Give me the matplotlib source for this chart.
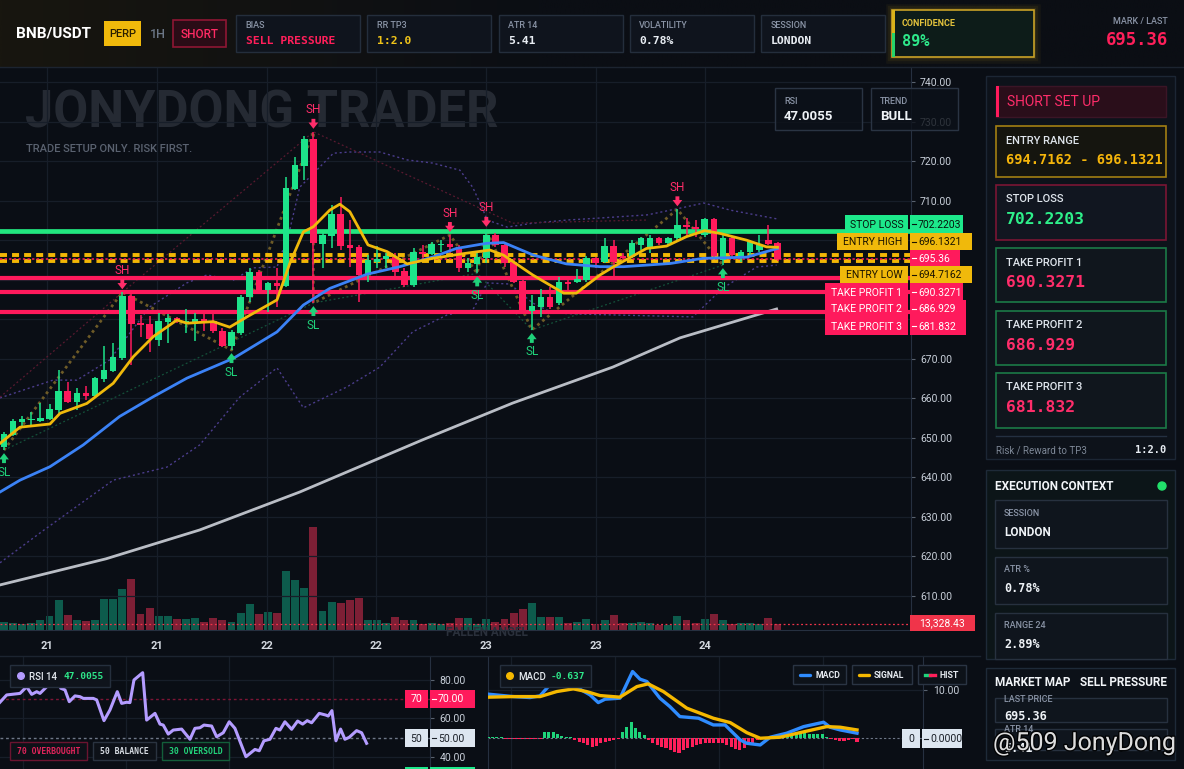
import matplotlib
matplotlib.use("Agg")
import matplotlib.pyplot as plt
from matplotlib.patches import Rectangle, Circle
from matplotlib.colors import to_rgba, to_rgb
import matplotlib.patheffects as pe
import numpy as np

plt.rcParams['font.family'] = ['Roboto', 'DejaVu Sans']
MONO = ['DejaVu Sans Mono', 'DejaVu Sans']

# ---------------------------------------------------------------- data
SYMBOL = "BNB/USDT"
TIMEFRAME = "1H"
SIDE = "SHORT"
BIAS = "SELL PRESSURE"
RR_TP3 = "1:2.0"
ATR_14 = 5.41
VOLATILITY_PCT = 0.78
SESSION = "LONDON"
CONFIDENCE_PCT = 89
RANGE_24_PCT = 2.89
RSI_LAST = 47.0055
MACD_LAST = -0.637
TREND = "BULL"
LAST_VOLUME = 13328.43

STOP_LOSS = 702.2203
ENTRY_HIGH = 696.1321
LAST_PRICE = 695.36
ENTRY_LOW = 694.7162
TP1 = 690.3271
TP2 = 686.929
TP3 = 681.832

OPEN = [647.8, 650.7, 654.1, 654.4, 654.3, 654.7, 657.0, 661.9, 659.1, 661.3,
        660.6, 664.8, 667.0, 670.1, 685.9, 679.0, 678.8, 674.8, 679.4, 680.4,
        679.1, 679.3, 680.1, 679.6, 677.1, 673.2, 676.4, 685.5, 692.0, 687.4,
        689.1, 688.5, 712.9, 718.8, 725.6, 699.0, 701.1, 706.5, 698.7, 698.3,
        691.2, 694.6, 695.3, 695.8, 692.2, 688.7, 696.9, 696.5, 698.7, 699.0,
        698.3, 693.0, 694.0, 695.6, 701.3, 698.8, 694.6, 689.7, 682.1, 683.2,
        685.7, 684.0, 689.3, 689.3, 689.9, 695.4, 694.6, 698.5, 696.0, 695.7,
        698.8, 697.7, 700.5, 699.2, 700.5, 703.8, 703.4, 701.3, 705.3, 695.0,
        700.5, 696.0, 696.9, 697.5, 700.0, 699.2]
HIGH = [651.6, 654.7, 655.6, 656.5, 658.7, 658.6, 667.2, 664.1, 662.5, 663.0,
        665.5, 673.2, 673.9, 686.8, 686.6, 681.1, 680.8, 681.7, 681.2, 680.6,
        682.5, 681.5, 681.5, 682.2, 677.7, 677.3, 686.1, 692.9, 692.5, 689.5,
        693.0, 716.0, 721.1, 726.4, 727.4, 701.7, 708.9, 710.8, 705.1, 698.8,
        696.2, 698.6, 696.7, 696.7, 692.9, 697.9, 698.8, 699.6, 700.0, 701.3,
        698.8, 695.4, 697.1, 702.6, 701.7, 699.2, 695.0, 690.1, 686.1, 687.6,
        688.2, 690.8, 690.8, 692.6, 696.0, 695.8, 700.5, 700.0, 696.7, 700.0,
        700.9, 701.3, 700.9, 700.9, 707.8, 705.5, 705.1, 705.5, 705.5, 701.3,
        700.9, 697.5, 700.0, 701.3, 703.8, 699.6]
LOW = [646.9, 650.5, 653.0, 653.0, 654.1, 654.5, 656.4, 658.7, 657.0, 659.6,
       660.4, 664.2, 666.7, 669.7, 668.4, 675.6, 671.6, 673.3, 674.1, 679.0,
       676.4, 674.5, 677.0, 676.4, 673.1, 672.2, 676.0, 684.4, 687.0, 681.9,
       683.2, 688.2, 712.7, 715.2, 684.1, 692.9, 697.9, 697.5, 693.3, 684.4,
       689.5, 692.9, 692.9, 690.8, 688.2, 688.2, 695.0, 696.2, 697.1, 696.7,
       692.0, 692.0, 691.6, 694.1, 698.3, 693.3, 689.1, 681.9, 677.3, 680.6,
       682.5, 683.6, 687.4, 689.1, 689.5, 692.9, 694.1, 690.8, 695.0, 695.4,
       697.5, 696.7, 698.8, 698.8, 699.6, 700.9, 700.9, 700.9, 695.7, 693.7,
       695.8, 694.6, 696.2, 697.1, 698.8, 694.8]
CLOSE = [651.0, 654.3, 654.7, 654.6, 655.0, 657.3, 661.9, 659.1, 661.3, 660.7,
         665.1, 667.2, 670.4, 685.9, 678.7, 678.5, 674.9, 679.6, 680.4, 679.6,
         679.6, 680.1, 679.3, 676.9, 673.2, 676.7, 685.7, 692.0, 687.4, 689.2,
         688.5, 713.1, 719.0, 725.6, 699.2, 701.3, 706.5, 698.6, 698.1, 691.2,
         695.0, 695.2, 696.0, 692.0, 688.7, 696.9, 696.4, 699.0, 698.9, 698.3,
         693.0, 694.3, 695.8, 701.3, 698.8, 694.1, 689.5, 682.3, 683.3, 685.7,
         683.2, 689.3, 688.8, 690.1, 695.4, 694.3, 698.5, 694.6, 695.4, 699.2,
         700.5, 700.5, 699.2, 700.5, 703.8, 703.3, 702.7, 705.3, 696.0, 700.5,
         696.2, 697.1, 699.6, 698.8, 699.0, 695.36]
VOLUME_K = [18.5, 14.8, 12.6, 16.3, 22.2, 31.1, 66.6, 33.3, 22.2, 20.7,
            22.2, 68.8, 68.8, 91.0, 113.2, 35.5, 48.8, 31.1, 31.1, 24.4,
            24.4, 26.6, 18.5, 26.6, 22.2, 18.5, 37.7, 57.7, 35.5, 40.0,
            37.7, 131.0, 111.0, 93.2, 228.7, 42.2, 62.2, 59.9, 66.6, 71.0,
            22.2, 22.2, 15.5, 28.9, 22.2, 22.2, 13.3, 15.5, 13.3, 15.5,
            26.6, 26.6, 13.3, 24.4, 17.8, 24.4, 37.7, 46.6, 59.9, 28.9,
            28.9, 28.9, 15.5, 17.8, 24.4, 13.3, 22.2, 33.3, 15.5, 15.5,
            17.8, 15.5, 11.1, 11.1, 31.1, 22.2, 15.5, 24.4, 35.5, 22.2,
            13.3, 15.5, 15.5, 13.3, 26.6, 13.33]

DATE_TICKS = [4.75, 16.8, 28.85, 40.9, 52.95, 65.0, 77.05]
DATE_LABELS = ["21", "21", "22", "22", "23", "23", "24"]
PRICE_TICKS = list(range(610, 741, 10))

EMA_FAST_X = [-0.44, 1.76, 5.05, 6.15, 9.1, 12.0, 14.2, 16.4, 19.0, 20.1, 23.0, 24.8, 26.7, 30.0,
              31.4, 32.9, 34.0, 35.8, 36.9, 38.0, 40.0, 42.1, 44.3, 47.1, 50.8, 53.4, 54.9, 58.1,
              61.5, 62.9, 65.5, 67.0, 70.6, 72.8, 75.0, 77.0, 78.7, 81.6, 83.8, 85.0]
EMA_FAST_Y = [648.6, 652.7, 653.5, 656.2, 658.7, 663.8, 670.5, 675.6, 679.8, 679.0, 679.4, 678.0,
              680.6, 684.9, 694.1, 702.1, 703.4, 707.6, 709.1, 707.2, 698.8, 697.1, 694.0, 695.4,
              696.7, 697.5, 696.2, 691.2, 686.6, 686.6, 691.2, 693.3, 697.9, 698.5, 700.9, 702.4,
              701.7, 700.0, 698.3, 698.2]
EMA_SLOW_X = [-0.44, 1.76, 5.05, 8.7, 12.7, 16.4, 20.1, 25.2, 30.0, 32.9, 35.8, 39.9, 43.5, 47.2,
              49.7, 53.0, 54.9, 58.2, 61.8, 65.5, 68.1, 73.2, 76.8, 81.6, 85.0]
EMA_SLOW_Y = [636.3, 639.3, 642.7, 648.2, 655.4, 660.4, 665.1, 670.1, 676.8, 683.6, 687.8, 691.4,
              693.3, 695.8, 697.9, 699.2, 699.4, 696.2, 694.0, 693.3, 693.3, 694.1, 695.4, 695.7,
              697.9]
MA_LONG_X = [-0.44, 11.2, 21.5, 32.5, 46.0, 55.9, 66.9, 74.3, 84.9]
MA_LONG_Y = [612.8, 619.4, 626.7, 636.3, 649.5, 658.8, 667.9, 675.3, 682.6]
BB_UP_X = [-0.44, 5.38, 8.0, 11.6, 16.0, 20.1, 22.3, 25.2, 27.4, 30.0, 31.4, 32.5, 36.2, 38.0,
           41.3, 44.3, 47.1, 50.1, 51.5, 52.5, 53.1, 55.3, 58.1, 61.9, 65.5, 70.7, 74.3, 76.9,
           79.8, 84.9]
BB_UP_Y = [660.1, 664.6, 664.6, 669.7, 683.1, 689.2, 691.2, 689.9, 693.0, 693.2, 702.6, 713.4,
           722.0, 722.3, 722.3, 720.3, 719.5, 717.7, 713.4, 708.4, 705.1, 703.3, 704.3, 705.1,
           705.6, 706.4, 708.1, 709.4, 707.6, 705.4]
BB_LO_X = [-0.44, 4.4, 12.0, 17.9, 21.5, 25.9, 30.0, 32.9, 37.7, 41.3, 44.9, 48.7, 51.5, 53.1,
           55.6, 58.1, 60.3, 63.3, 75.7, 79.0, 82.7, 84.9]
BB_LO_Y = [618.4, 626.7, 639.3, 642.6, 648.2, 660.3, 667.7, 657.6, 662.9, 667.9, 676.8, 681.1,
           682.3, 689.2, 688.9, 684.1, 681.6, 681.3, 680.6, 687.9, 693.2, 693.7]
TREND_HI_X = [-0.44, 13, 34, 55.9, 70.7]
TREND_HI_Y = [660.3, 686.8, 727.4, 704.3, 705.1]
TREND_LOW_IDX = [0, 34, 52, 58, 79]

SH_IDX = [13, 34, 49, 53, 74]
SL_IDX = [0, 25, 34, 52, 58, 79]
ZIG_IDX = [0, 13, 25, 34, 34, 49, 52, 53, 58, 74, 79]
ZIG_KIND = ['L', 'H', 'L', 'H', 'L', 'H', 'L', 'H', 'L', 'H', 'L']

RSI_X = [0.0, 1.55, 4.64, 6.19, 7.35, 8.51, 9.27, 10.83, 12.75, 13.28,
         14.07, 15.07, 16.06, 17.39, 18.54, 19.31, 21.63, 22.42, 24.11, 25.5,
         27.19, 28.21, 29.37, 30.13, 31.06, 33.08, 34.0, 35.93, 37.09, 37.85,
         39.01, 40.17, 42.12, 44.04, 45.2, 46.36, 47.29, 49.07, 50.23, 51.76,
         53.15, 54.47, 57.02, 59.11, 60.11, 61.2, 62.59, 63.98, 64.9, 66.06,
         67.62, 69.01, 70.17, 71.23, 72.25, 74.02, 75.57, 76.1, 76.96, 77.89,
         78.97, 79.97, 80.97, 82.68, 83.84, 85.0]
RSI_Y = [68.4, 72.2, 73.0, 76.5, 72.5, 73.9, 73.0, 76.5, 79.1, 86.6,
         75.7, 74.8, 68.7, 71.7, 71.3, 70.4, 70.4, 69.6, 58.8, 64.4,
         73.9, 67.8, 68.4, 68.2, 80.0, 83.8, 59.1, 62.6, 57.0, 56.5,
         51.8, 53.9, 54.4, 49.1, 54.8, 55.1, 56.5, 56.0, 50.4, 52.5,
         58.2, 54.8, 40.0, 43.8, 43.1, 48.3, 49.1, 54.8, 53.9, 58.2,
         54.3, 58.6, 57.0, 58.8, 57.7, 62.6, 61.7, 61.2, 64.0, 48.3,
         54.4, 49.1, 50.1, 53.6, 52.5, 47.0]
MACD_X = [0.07, 5.83, 9.68, 11.98, 13.89, 15.83, 18.89, 21.2, 23.5, 25.4,
          26.96, 30.4, 33.3, 35.0, 36.6, 39.6, 41.9, 44.2, 48.5, 51.9,
          54.6, 58.1, 59.6, 62.7, 65.0, 68.8, 72.7, 77.3, 78.8, 81.1, 85.0]
MACD_Y = [9.11, 8.61, 8.41, 8.76, 10.68, 11.04, 10.68, 10.14, 8.96, 7.37,
          8.07, 8.28, 13.79, 12.22, 11.72, 8.28, 6.54, 4.47, 4.14, 2.75,
          2.75, -0.35, -1.04, -1.39, 0.21, 1.04, 2.40, 3.31, 2.28, 1.72, 1.04]
SIGNAL_X = [0.07, 5.83, 11.98, 15.83, 19.65, 22.7, 25.8, 30.4, 34.3, 36.9, 40.4,
            45.8, 51.9, 55.8, 59.6, 62.7, 67.3, 71.9, 78.0, 81.1, 85.0]
SIGNAL_Y = [8.49, 8.61, 8.61, 9.65, 10.21, 9.65, 8.82, 8.49, 10.68, 11.24, 9.65,
            6.21, 4.14, 3.23, 1.16, 0.0, 0.21, 1.16, 2.40, 2.28, 1.72]
HIST = ([0.2] * 4 + [-0.2] * 9 + [1.38, 1.38, 1.38, 0.9, 0.48, 0.35] + [0.2] +
        [-0.35, -0.69, -1.04, -1.38, -1.73, -1.59, -1.04, -0.69, -0.48, -0.35, -0.2] +
        [1.38, 2.28, 3.45, 2.07, 1.38, 0.69] +
        [-0.35, -0.9, -1.38, -1.73, -2.07, -2.42, -2.76, -2.97, -2.42, -2.07, -1.73, -1.38,
         -1.24, -1.04, -1.04, -0.9, -0.9, -1.04, -1.38, -1.86, -2.28, -2.42, -2.07, -1.38,
         -0.9, -0.35] + [-0.2] +
        [0.2, 0.48, 0.48, 0.69, 0.69, 0.69, 0.9, 1.04, 1.04, 1.04, 0.9, 0.9, 0.9, 0.9, 0.35] +
        [-0.2, -0.35, -0.48, -0.48, -0.35, -0.2, -0.69])
LOWER_GRID = [5.4, 29.3, 53.2, 77.1]

# ---------------------------------------------------------------- style
W, H = 1184, 769
BG = '#0a0e15'
GREEN = '#1de38a'
RED = '#ff1a5c'
YEL = '#f2b705'
TXT = '#c8cfd9'
GRID = '#171e29'
BOX_FC = '#0f141d'
BOX_EC = '#242e3c'

fig = plt.figure(figsize=(W / 100, H / 100), dpi=100, facecolor=BG)


def frect(x0, y0, x1, y1):
    return [x0 / W, 1 - y1 / H, (x1 - x0) / W, (y1 - y0) / H]


ui = fig.add_axes([0, 0, 1, 1], zorder=20)
ui.set_axis_off()

# ---------------------------------------------------------------- main chart
idx = np.arange(len(CLOSE))
o, h, l, c = (np.array(v) for v in (OPEN, HIGH, LOW, CLOSE))
up = c >= o
ccol = np.where(up, GREEN, RED)
vcol = np.where(up, '#0d5b4c', '#7d1f35')
XLIM = (-0.44, 99.67)

axv = fig.add_axes(frect(0, 67, 911, 630), zorder=1)
axv.bar(idx, VOLUME_K, width=0.86, color=vcol, linewidth=0)
axv.axhline(LAST_VOLUME / 1000, color='#f0344a', lw=0.9, ls=(0, (1.5, 2)))
axv.set_xlim(*XLIM)
axv.set_ylim(0, 1250)
axv.axis('off')

ax = fig.add_axes(frect(0, 67, 911, 630), zorder=2)
ax.patch.set_visible(False)
ax.set_xlim(*XLIM)
ax.set_ylim(601.4, 743.8)

ax.plot(BB_UP_X, BB_UP_Y, color='#4b3d8c', lw=1.0, ls=(0, (1.5, 2)), zorder=2)
ax.plot(BB_LO_X, BB_LO_Y, color='#4b3d8c', lw=1.0, ls=(0, (1.5, 2)), zorder=2)
ax.plot(TREND_HI_X, TREND_HI_Y, color='#5a1a30', lw=0.9, ls=(0, (1.5, 2)), zorder=2)
ax.plot(TREND_LOW_IDX, [LOW[i] for i in TREND_LOW_IDX], color='#14513a', lw=0.9,
        ls=(0, (1.5, 2)), zorder=2)
zig_y = [HIGH[i] if k == 'H' else LOW[i] for i, k in zip(ZIG_IDX, ZIG_KIND)]
ax.plot(ZIG_IDX, zig_y, color='#6e5b27', lw=2.0, ls=(0, (1, 1.3)), zorder=2.5)
ax.plot(MA_LONG_X, MA_LONG_Y, color='#b9bdc5', lw=2.0, zorder=3)

ax.axhline(STOP_LOSS, color='#22e67f', lw=3.4, zorder=3.5)
for lv in (TP1, TP2, TP3):
    ax.axhline(lv, color=RED, lw=3.0, zorder=3.5)
for lv in (ENTRY_HIGH, ENTRY_LOW):
    ax.axhline(lv, color=YEL, lw=2.8, ls=(0, (1.8, 1.3)), zorder=3.5)
ax.axhline(LAST_PRICE, color=RED, lw=1.1, ls=(0, (1.5, 1.5)), zorder=3.6)

ax.vlines(idx, l, h, colors=ccol, lw=1.1, zorder=5)
ax.bar(idx, np.maximum(np.abs(c - o), 0.35), bottom=np.minimum(o, c), width=0.72,
       color=ccol, linewidth=0, zorder=5)

ax.plot(EMA_SLOW_X, EMA_SLOW_Y, color='#3b82f6', lw=2.0, zorder=6)
ax.plot(EMA_FAST_X, EMA_FAST_Y, color='#f0b90b', lw=2.0, zorder=6.1)

arrow = "simple,head_length=0.45,head_width=0.7,tail_width=0.28"
for i in SH_IDX:
    ax.annotate('', xy=(i, HIGH[i]), xytext=(0, 13 * 0.72), textcoords='offset points',
                arrowprops=dict(arrowstyle=arrow, color='#ff2d6a', lw=0, shrinkA=0, shrinkB=2.2),
                zorder=7)
    ax.annotate('SH', xy=(i, HIGH[i]), xytext=(0, 22 * 0.72), textcoords='offset points',
                ha='center', va='center', color='#ff2d6a', fontsize=8.5, zorder=7)
for i in SL_IDX:
    ax.annotate('', xy=(i, LOW[i]), xytext=(0, -13 * 0.72), textcoords='offset points',
                arrowprops=dict(arrowstyle=arrow, color='#1fd27a', lw=0, shrinkA=0, shrinkB=2.2),
                zorder=7)
    ax.annotate('SL', xy=(i, LOW[i]), xytext=(0, -22 * 0.72), textcoords='offset points',
                ha='center', va='center', color='#1fd27a', fontsize=8.5, zorder=7)

ax.set_yticks(PRICE_TICKS)
ax.set_yticklabels([f"{v:.2f}" for v in PRICE_TICKS])
ax.yaxis.tick_right()
ax.tick_params(axis='y', length=3, width=0.8, color='#59626f', pad=3.5, labelsize=7.5,
               labelcolor=TXT)
ax.set_xticks(DATE_TICKS)
ax.set_xticklabels(DATE_LABELS)
ax.tick_params(axis='x', length=0, pad=8, labelsize=8, labelcolor='#d5dae1')
for t in ax.get_xticklabels():
    t.set_fontweight('bold')
ax.grid(True, color=GRID, lw=0.9)
ax.set_axisbelow(True)
for s in ('top', 'left'):
    ax.spines[s].set_visible(False)
ax.spines['right'].set_color('#263040')
ax.spines['bottom'].set_color('#263040')

ax.text(25, 113, "JONYDONG TRADER", transform=ui.transData, color='#252a33', fontsize=36.5,
        fontweight='bold', va='center', ha='left', zorder=0.5)
ax.text(26, 149, "TRADE SETUP ONLY. RISK FIRST.", transform=ui.transData, color='#5a6270',
        fontsize=8, fontweight='medium', va='center', ha='left', zorder=0.5)

# ---------------------------------------------------------------- RSI panel
ar = fig.add_axes(frect(0, 656, 430, 769), zorder=1)
ar.set_facecolor(BG)
ar.set_xlim(0, 99.7)
ar.set_ylim(33.6, 92.5)
ar.axhline(70, color='#7d1535', lw=1.0, ls=(0, (2, 2)))
ar.axhline(50, color='#6f7888', lw=1.0, ls=(0, (2, 2)))
ar.plot(RSI_X, RSI_Y, color='#b49cff', lw=2.2, zorder=4, solid_joinstyle='round')
ar.set_yticks([40, 60, 80])
ar.set_yticklabels(["40.00", "60.00", "80.00"])
ar.yaxis.tick_right()
ar.tick_params(axis='y', length=3, width=0.8, color='#59626f', pad=4, labelsize=7.5,
               labelcolor=TXT)
ar.set_xticks(LOWER_GRID)
ar.tick_params(axis='x', length=0, labelbottom=False)
ar.grid(True, color=GRID, lw=0.9)
ar.set_axisbelow(True)
for s in ('left', 'bottom', 'top'):
    ar.spines[s].set_visible(False)
ar.spines['right'].set_color('#263040')

# ---------------------------------------------------------------- MACD panel
am = fig.add_axes(frect(488, 656, 923, 769), zorder=1)
am.set_facecolor(BG)
am.set_xlim(0, 100.2)
am.set_ylim(-6.36, 17.0)
hist = np.array(HIST)
am.bar(np.arange(len(hist)), hist, width=0.7, color=np.where(hist >= 0, '#1ed47a', '#ff1f5a'),
       linewidth=0, zorder=3)
am.axhline(0, color='#6f7888', lw=0.8, ls=(0, (2, 2)), zorder=2)
am.plot(MACD_X, MACD_Y, color='#2f8cff', lw=2.4, zorder=4)
am.plot(SIGNAL_X, SIGNAL_Y, color='#f5b800', lw=2.4, zorder=5)
am.set_yticks([10])
am.set_yticklabels(["10.00"])
am.yaxis.tick_right()
am.tick_params(axis='y', length=3, width=0.8, color='#59626f', pad=4, labelsize=7.5,
               labelcolor=TXT)
am.set_xticks(LOWER_GRID)
am.tick_params(axis='x', length=0, labelbottom=False)
am.grid(True, color=GRID, lw=0.9)
am.set_axisbelow(True)
for s in ('bottom', 'top'):
    am.spines[s].set_visible(False)
am.spines['left'].set_color('#263040')
am.spines['right'].set_color('#263040')


# ---------------------------------------------------------------- UI helpers
def box(x0, y0, x1, y1, fc='none', ec='none', lw=1.0, z=2):
    ui.add_patch(Rectangle((x0, y0), x1 - x0, y1 - y0, facecolor=fc, edgecolor=ec,
                           linewidth=lw, zorder=z))


def write(x, y, s, color, size, weight='normal', ha='left', family=None, z=6, alpha=1.0):
    kw = {}
    if family is not None:
        kw['family'] = family
    return ui.text(x, y, s, color=color, fontsize=size, fontweight=weight, ha=ha, va='center',
                   zorder=z, alpha=alpha, **kw)


# ---------------------------------------------------------------- top bar
cl = np.array(to_rgb('#18160f'))
cr = np.array(to_rgb('#0b0e14'))
tt = np.clip(np.linspace(0, 1, 300) * 2.2, 0, 1)[None, :, None]
ui.imshow(cl * (1 - tt) + cr * tt, extent=(0, W, 67, 0), aspect='auto', zorder=0,
          interpolation='bilinear')
ui.set_xlim(0, W)
ui.set_ylim(H, 0)
ui.plot([0, W], [67, 67], color='#1c2430', lw=1, zorder=1)

write(16, 34, SYMBOL, '#ffffff', 11, 'bold')
box(104, 21, 141, 46, fc='#f0b90b')
write(122.5, 34, "PERP", '#2a1f00', 8, 'medium', ha='center')
write(150, 34, TIMEFRAME, '#6b7686', 9, 'medium')
box(173, 20, 226, 47, fc='#2a0c16', ec='#8e1634', lw=1.2)
write(199.5, 34, SIDE, '#ff2b64', 8.5, 'medium', ha='center')

metrics = [("BIAS", BIAS, '#ff1f5a'), ("RR TP3", RR_TP3, '#f0c419'),
           ("ATR 14", f"{ATR_14:.2f}", '#e8edf3'), ("VOLATILITY", f"{VOLATILITY_PCT:.2f}%", '#e8edf3'),
           ("SESSION", SESSION, '#e8edf3')]
for k, (lab, val, col) in enumerate(metrics):
    x0 = 236 + k * 131.3
    box(x0, 15, x0 + 124, 52, fc=BOX_FC, ec=BOX_EC)
    write(x0 + 9.5, 26, lab, '#8a94a6', 6.5, 'medium')
    write(x0 + 9.5, 41, val, col, 8.2, 'bold', family=MONO)

for lw_, a_ in ((9, 0.05), (6, 0.07), (3, 0.10)):
    ui.add_patch(Rectangle((892, 10), 142, 47, facecolor='none',
                           edgecolor=to_rgba('#d8b020', a_), linewidth=lw_, zorder=2))
box(892, 10, 1034, 57, fc='#0d1c19', ec='#c9a227', lw=1.2, z=3)
box(892, 10, 895, 33, fc='#d9b31a', z=4)
box(892, 33, 895, 57, fc='#25d46a', z=4)
write(902, 23, "CONFIDENCE", '#e2c23c', 6.5, 'bold')
write(902, 41, f"{CONFIDENCE_PCT}%", '#2ee88a', 11, 'bold', family=MONO)

write(1168, 22, "MARK / LAST", '#8a94a6', 6.5, 'medium', ha='right')
write(1168, 40, f"{LAST_PRICE:.2f}", '#ff1f5a', 12.4, 'bold', ha='right', family=MONO)

# ---------------------------------------------------------------- chart overlays
for x0, lab, val in ((775, "RSI", f"{RSI_LAST:.4f}"), (871, "TREND", TREND)):
    box(x0, 88, x0 + 87, 130, fc=to_rgba('#0c1119', 0.82), ec='#2a3443', z=3)
    write(x0 + 9, 101, lab, '#8a94a6', 6.5, 'medium')
    write(x0 + 9, 117, val, '#eef2f6', 9.5, 'bold')

tags = [("STOP LOSS", str(STOP_LOSS), 845, 215, 233, 963, '#1de98b', '#07150d'),
        ("ENTRY HIGH", str(ENTRY_HIGH), 837, 233, 250, 972, '#f0b90b', '#1b1400'),
        (None, str(LAST_PRICE), 910, 250, 266, 960, '#ff1a5c', '#ffffff'),
        ("ENTRY LOW", str(ENTRY_LOW), 840, 266, 283, 972, '#f0b90b', '#1b1400'),
        ("TAKE PROFIT 1", str(TP1), 825, 283, 301, 963, '#ff1a5c', '#ffffff'),
        ("TAKE PROFIT 2", str(TP2), 825, 300, 317, 966, '#ff1a5c', '#ffffff'),
        ("TAKE PROFIT 3", str(TP3), 825, 317, 335, 966, '#ff1a5c', '#ffffff')]
for lab, val, lx0, y0, y1, vx1, fc, tc in tags:
    if lab is not None:
        box(lx0, y0, 908, y1, fc=fc, z=4)
        write((lx0 + 908) / 2, (y0 + y1) / 2 + 0.5, lab, tc, 7.5, 'normal', ha='center', z=5)
    box(910, y0, vx1, y1, fc=fc, z=4)
    ui.plot([912, 916], [(y0 + y1) / 2] * 2, color=tc, lw=0.8, zorder=5)
    write(918, (y0 + y1) / 2 + 0.5, val, tc, 7.5, 'normal', z=5)

box(910, 615, 975, 631, fc='#f0344a', z=4)
write(942.5, 623.5, f"{LAST_VOLUME:,.2f}", '#ffffff', 7.5, ha='center', z=5)
write(487, 632, "FALLEN ANGEL", '#2a303b', 8.5, 'bold', ha='center', z=1)

# ---------------------------------------------------------------- lower panels overlay
ui.plot([0, 980], [656, 656], color='#1c2430', lw=1, zorder=1)
box(10, 665, 110, 687, fc='#0f141c', ec='#252f3d', z=3)
ui.add_patch(Circle((21, 676), 3.3, color='#b49cff', zorder=4))
write(29, 676.5, "RSI 14", '#e6ebf1', 7, 'medium')
write(64, 676.5, f"{RSI_LAST:.4f}", '#2ee88a', 6.8, 'bold', family=MONO)

badges = [(10, 87, "70 OVERBOUGHT", '#6b1430', '#e0245a'),
          (93, 156, "50 BALANCE", '#2a3340', '#d6dbe2'),
          (162, 229, "30 OVERSOLD", '#135e3a', '#22d37a')]
for x0, x1, s, ec, tc in badges:
    box(x0, 742, x1, 760, fc='#0d1118', ec=ec, z=3)
    write((x0 + x1) / 2, 751.5, s, tc, 5.9, 'bold', ha='center', family=MONO)

for y0, y1, fc, tc, s in ((690, 708, '#ff1a5c', '#ffffff', "70"),
                          (729, 747, '#dde6f0', '#1a1f27', "50")):
    box(405, y0, 428, y1, fc=fc, z=4)
    box(430, y0, 475, y1, fc=fc, z=4)
    write(416.5, (y0 + y1) / 2 + 0.5, s, tc, 7.5, ha='center', z=5)
    ui.plot([432, 436], [(y0 + y1) / 2] * 2, color=tc, lw=0.8, zorder=5)
    write(438, (y0 + y1) / 2 + 0.5, s + ".00", tc, 7.5, z=5)
# 30 level tag: only its top edge is visible in the frame
box(405, 767, 428, 780, fc='#1de98b', z=4)
box(430, 767, 475, 780, fc='#1de98b', z=4)

box(500, 665, 591, 687, fc='#0f141c', ec='#252f3d', z=3)
ui.add_patch(Circle((510, 676), 3.3, color='#f5b800', zorder=4))
write(518, 676.5, "MACD", '#e6ebf1', 7, 'medium')
write(551, 676.5, f"{MACD_LAST:.3f}", '#2ee88a', 6.8, 'bold', family=MONO)

for x0, x1, s, cols in ((793, 846, "MACD", ['#2f8cff']), (852, 912, "SIGNAL", ['#f5b800']),
                        (918, 966, "HIST", ['#1ed47a', '#ff1f5a'])):
    box(x0, 665, x1, 684, fc='#0d1219', ec='#2a3443', z=3)
    if len(cols) == 1:
        ui.plot([x0 + 7, x0 + 17], [674.5, 674.5], color=cols[0], lw=2.4, zorder=4,
                solid_capstyle='round')
    else:
        ui.plot([x0 + 7, x0 + 12], [674.5, 674.5], color=cols[0], lw=2.4, zorder=4)
        ui.plot([x0 + 12, x0 + 17], [674.5, 674.5], color=cols[1], lw=2.4, zorder=4)
    write(x0 + 22, 675, s, '#e6ebf1', 6.3, 'bold')

box(902, 729, 920, 748, fc='#dde6f0', z=4)
box(922, 729, 962, 748, fc='#dde6f0', z=4)
write(911, 739, "0", '#1a1f27', 7.5, ha='center', z=5)
ui.plot([924, 928], [738.5, 738.5], color='#1a1f27', lw=0.8, zorder=5)
write(930, 739, "0.0000", '#1a1f27', 7.5, z=5)

# ---------------------------------------------------------------- right panel
box(986, 76, 1175, 459, fc='#0d121a', ec='#1c2634', z=1)
box(996, 86, 1166, 117, fc='#2a0e1a', ec='#3b1526', z=2)
box(996, 86, 999, 117, fc='#ff1a5c', z=3)
write(1007, 102, "SHORT SET UP", '#ff2d6a', 10)

cards = [("ENTRY RANGE", f"{ENTRY_LOW} - {ENTRY_HIGH}", 126, 177, '#a27f12', '#15150f', '#f5b50b', 9.8),
         ("STOP LOSS", str(STOP_LOSS), 185, 240, '#7a1534', '#111620', '#2ef08a', 11.8),
         ("TAKE PROFIT 1", str(TP1), 248, 302, '#1b7a47', '#10161d', '#ff2d6a', 11.8),
         ("TAKE PROFIT 2", str(TP2), 311, 365, '#1b7a47', '#10161d', '#ff2d6a', 11.8),
         ("TAKE PROFIT 3", str(TP3), 373, 428, '#1b7a47', '#10161d', '#ff2d6a', 11.8)]
for lab, val, y0, y1, ec, fc, vc, vs in cards:
    box(996, y0, 1166, y1, fc=fc, ec=ec, lw=1.2, z=2)
    write(1006, y0 + 14.5, lab, '#dfe5ec', 8, 'medium')
    write(1006, y0 + 34.5, val, vc, vs, 'bold', family=MONO)
ui.plot([996, 1166], [436, 436], color='#243041', lw=1, zorder=2)
write(996, 450, "Risk / Reward to TP3", '#7d8796', 7)
write(1166, 450, RR_TP3, '#e8edf3', 7.5, 'bold', ha='right', family=MONO)

box(986, 470, 1175, 659, fc='#0c1518', ec='#1e2a38', z=1)
write(995, 486, "EXECUTION CONTEXT", '#f2f5f8', 8.5, 'bold')
ui.add_patch(Circle((1162, 486), 4, color='#22e06b', zorder=4))
for lab, val, y0, y1 in (("SESSION", SESSION, 500, 548),
                         ("ATR %", f"{VOLATILITY_PCT:.2f}%", 557, 604),
                         ("RANGE 24", f"{RANGE_24_PCT:.2f}%", 613, 659)):
    box(995, y0, 1167, y1, fc='#0f151d', ec='#27313f', z=2)
    write(1004, y0 + 13, lab, '#8a94a6', 6.5, 'medium')
    write(1004, y0 + 32, val, '#eef2f6', 8.5, 'bold',
          family=None if lab == "SESSION" else MONO)

box(986, 668, 1175, 760, fc='#0c1118', ec='#1e2a38', z=1)
write(995, 683, "MARKET MAP", '#f2f5f8', 8.5, 'bold')
write(1167, 683, BIAS, '#f2f5f8', 8.5, 'bold', ha='right')
for lab, val, y0, y1 in (("LAST PRICE", f"{LAST_PRICE:.2f}", 698, 722),
                         ("ATR 14", f"{ATR_14:.2f}", 729, 750)):
    box(995, y0, 1167, y1, fc='#0f151d', ec='#27313f', z=2)
    write(1004, y0 + 1, lab, '#8a94a6', 6.5, 'medium', z=3)
    write(1004, y0 + 19, val, '#eef2f6', 8.5, 'bold', family=MONO, z=3)

t = write(993, 743, "@509 JonyDong", '#ffffff', 18, 'normal', z=8, alpha=0.85)
t.set_path_effects([pe.withStroke(linewidth=2, foreground=to_rgba('#000000', 0.35))])

fig.savefig("out.png", dpi=100, facecolor=BG)
